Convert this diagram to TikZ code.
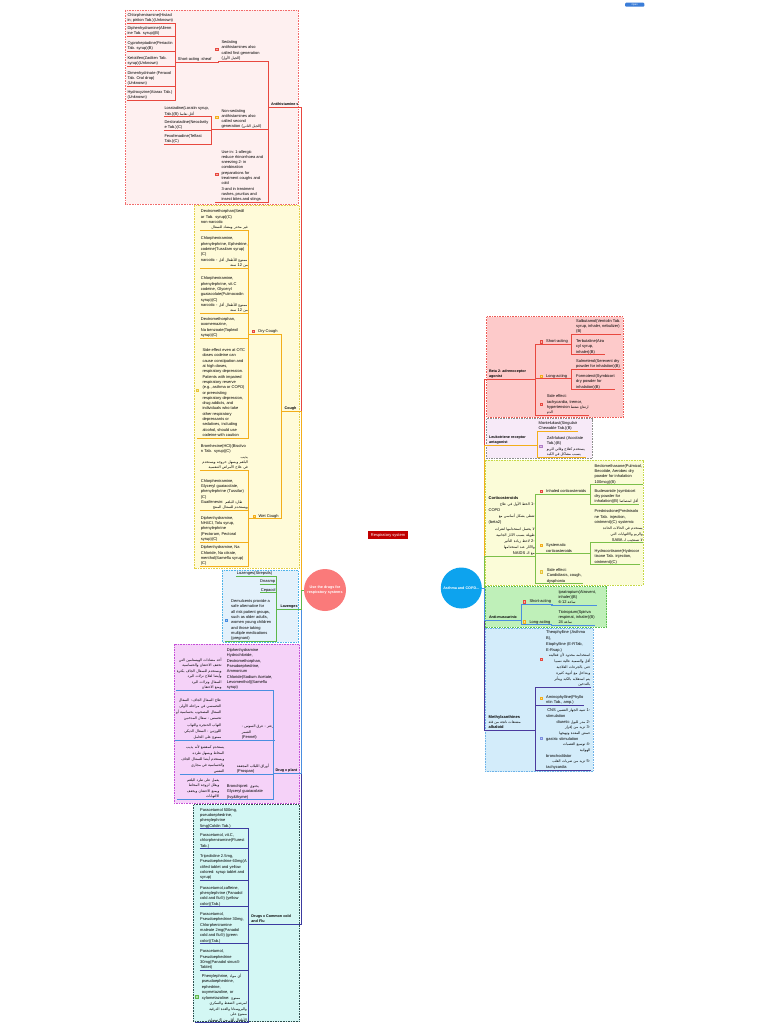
\documentclass[tikz,border=0pt]{standalone}
\usepackage{fontspec}
\setmainfont{Liberation Sans}
\newfontfamily\arfont[Script=Arabic,Scale=0.88]{DejaVu Sans}
\TeXXeTstate=1
\newcommand\artx[1]{{\arfont\beginR #1\endR}}
\newcommand\artr[1]{\mbox{}\hfill\artx{#1}}
\newcommand\ltr[1]{\beginL{\normalfont #1}\endL{}}
\newcommand\fs{\fontsize{4}{5.3}\selectfont}
\newcommand\fsx[1]{\fontsize{4}{#1}\selectfont}
\newcommand\fsb{\fontsize{3.7}{5.3}\selectfont\bfseries}
\definecolor{redL}{HTML}{E8483F}
\definecolor{redB}{HTML}{F26B6B}
\definecolor{redF}{HTML}{FEF0F0}
\definecolor{orL}{HTML}{F3AE1B}
\definecolor{yelB}{HTML}{E3CF45}
\definecolor{yelF}{HTML}{FFFBD9}
\definecolor{yelM}{HTML}{E8C53A}
\definecolor{grL}{HTML}{5DB84A}
\definecolor{lozB}{HTML}{4FB3E8}
\definecolor{lozF}{HTML}{E3F1FB}
\definecolor{blL}{HTML}{4A8EE0}
\definecolor{magB}{HTML}{C44FD6}
\definecolor{magF}{HTML}{F5D2F8}
\definecolor{navL}{HTML}{3B3BA0}
\definecolor{tealB}{HTML}{2F4F4F}
\definecolor{cyF}{HTML}{D3F7F4}
\definecolor{r1F}{HTML}{FDCACA}
\definecolor{r1B}{HTML}{EE5A55}
\definecolor{r2F}{HTML}{F7EAF8}
\definecolor{r2B}{HTML}{8E8E8E}
\definecolor{r2M}{HTML}{B07CC6}
\definecolor{r3F}{HTML}{FBFCD8}
\definecolor{r3B}{HTML}{C5D845}
\definecolor{r3L}{HTML}{7CC04A}
\definecolor{r4F}{HTML}{BFF0B9}
\definecolor{r4B}{HTML}{5CC04F}
\definecolor{r5F}{HTML}{D3ECFA}
\definecolor{r5B}{HTML}{6FB3E8}
\definecolor{r5M}{HTML}{7B8FE0}
\definecolor{purL}{HTML}{4B3A9E}
\definecolor{pinkC}{HTML}{FA7A7A}
\definecolor{blueC}{HTML}{0DA3EE}
\definecolor{rootR}{HTML}{C00000}
\definecolor{btnB}{HTML}{3B7DD8}
\newcommand\ulin[2]{\draw[ln,#2] (#1.south west) -- (#1.south east);}
\newcommand\ulx[3]{\draw[ln,#2] ([xshift=-#3pt]#1.south west) -- (#1.south east);}
\newcommand\lcon[4]{\draw[ln,#4] (#1.south west) -- (#1.south west -| #3,0) |- (#2.south east);}
\newcommand\rcon[4]{\draw[ln,#4] (#1.south east) -- (#1.south east -| #3,0) |- (#2.south west);}
\newcommand\mrk[3]{\filldraw[fill=#3!45,draw=#3,line width=0.3pt] ({#1-1.3},{#2-1.2}) rectangle ({#1+1.3},{#2+1.2});}
\begin{document}
\begin{tikzpicture}[x=1pt,y=-1pt,
 t/.style={font=\fs,align=left,inner sep=0.5pt,anchor=north west,execute at end node={\vphantom{(}}},
 tr/.style={font=\fs,align=right,inner sep=0.5pt,anchor=south east,execute at end node={\vphantom{(}}},
 lb/.style={font=\fsb,align=left,inner sep=0.5pt,anchor=north west,execute at end node={\vphantom{(}}},
 grp/.style={dash pattern=on 1.6pt off 1pt,line width=0.5pt},
 ln/.style={line width=0.7pt}]
\fill[white] (0,0) rectangle (768,1024);
\useasboundingbox (0,0) rectangle (768,1024);

% ---------- group boxes ----------
\draw[grp,draw=redB,fill=redF] (125.7,10) rectangle (298.3,204);
\draw[grp,draw=yelB,fill=yelF] (194,205.5) rectangle (299.5,568.3);
\draw[grp,draw=lozB,fill=lozF] (222.3,570) rectangle (298.3,642.3);
\draw[grp,draw=magB,fill=magF] (174,644) rectangle (299.5,803.3);
\draw[grp,draw=tealB,fill=cyF] (193.3,804.5) rectangle (299.5,1021.7);
\draw[grp,draw=r1B,fill=r1F] (486.7,316.7) rectangle (623.3,417.3);
\draw[grp,draw=r2B,fill=r2F] (486.7,418.5) rectangle (592.3,458.3);
\draw[grp,draw=r3B,fill=r3F] (485,460) rectangle (643.3,585);
\draw[grp,draw=r4B,fill=r4F] (485,586.5) rectangle (606.7,627);
\draw[grp,draw=r5B,fill=r5F] (485,628.3) rectangle (593.3,771.7);

% ---------- centre ----------
\node[fill=rootR,text=white,font=\fs,inner sep=0,minimum width=40.6pt,minimum height=8.3pt] (root) at (388,535.2) {Respiratory system};
\node[circle,fill=pinkC,text=white,font=\fontsize{3.7}{4.6}\selectfont\bfseries,align=center,minimum size=42pt,inner sep=0] (pink) at (325,590) {Use the drugs for\\respiratory systems};
\node[circle,fill=blueC,text=white,font=\fontsize{3.7}{4.4}\selectfont\bfseries,minimum size=41pt,inner sep=0] (bluec) at (461.3,588) {Asthma and COPD...};
\node[fill=btnB,rounded corners=1pt,text=white,font=\fontsize{2.6}{3}\selectfont,inner sep=0.5pt,minimum width=19.3pt,minimum height=4pt] (btn) at (634.7,4.7) {Open};

% ---------- Antihistamines ----------
\node[lb] (antih) at (270.3,102.6) {Antihistamine s};
\node[t] (sed) at (220.8,40) {Sedating\\antihistamines also\\called first generation\\(\artx{الجيل الأول})};
\node[t] (ns) at (220.8,108.5) {Non-sedating\\antihistamines also\\called second\\generation (\artx{الجيل الثاني})};
\node[t] (ui) at (220.8,149.5) {Use in: 1-allergic\\reduce rhinorrhoea and\\sneezing 2- in\\combination\\preparations for\\treatment coughs and\\cold\\3-and in treatment\\rashes, pruritus and\\insect bites and stings};
\node[t] (sa) at (177.2,56.8) {Short-acting :sheaf};
\node[t] (a1) at (126.8,12.8) {Chlorpheniramine(Histad\\in; piriton Tab.)(Unknown)};
\node[t] (a2) at (126.8,25.8) {Diphenhydramine(Allerm\\ine Tab. syrup)(B)};
\node[t] (a3) at (126.8,40.8) {Cyproheptadine(Periactin\\Tab. syrup)(B)};
\node[t] (a4) at (126.8,55.8) {Ketotifen(Zaditen Tab.\\syrup)(Unknown)};
\node[t] (a5) at (126.8,70.5) {Dimenhydrinate (Feraxol\\Tab. Oral drop)\\(Unknown)};
\node[t] (a6) at (126.8,89.8) {Hydroxyzine(Atarax Tab.)\\(Unknown)};
\node[t] (lo) at (163.8,106.3) {Loratadine(Loratin syrup,\\Tab.)(B) \artx{أقل نعاسا}};
\node[t] (de) at (163.8,119.8) {Desloratadine(Neoclarity\\e Tab.)(C)};
\node[t] (fe) at (163.8,133.8) {Fexofenadine(Telfast\\Tab.)(C)};

% ---------- Cough ----------
\node[lb] (cough) at (284,406.5) {Cough};
\node[t] (dry) at (257.7,329.1) {Dry Cough};
\node[t] (wet) at (258,513.4) {Wet Cough};
\node[t,text width=47pt] (dc1) at (200.2,209.2) {Dextromethorphan(Sedil\\ar Tab. syrup)(C)\\non-narcotic\\\artr{غير مخدر ومضاد للسعال}};
\node[t,text width=47pt] (dc2) at (200.2,236.3) {Chlorpheniramine,\\phenylephrine, Ephedrine,\\codeine(Tussilam syrup)\\(C)\\narcotic - \artx{ممنوع للأطفال أقل}\\\artr{من \ltr{12} سنة}};
\node[t,text width=47pt] (dc3) at (200.2,276.3) {Chlorpheniramine,\\phenylephrine, vit.C\\codeine, Glyceryl\\guaiacolate(Pulmocodin\\syrup)(C)\\narcotic - \artx{ممنوع للأطفال أقل}\\\artr{من \ltr{12} سنة}};
\node[t] (dc4) at (200.2,316.9) {Dextromethorphan,\\oxomemazine,\\Na benzoate(Toplexil\\syrup)(C)};
\node[t] (dse) at (201.8,348) {Side effect even at OTC\\doses codeine can\\cause constipation and\\at high doses,\\respiratory depression.\\Patients with impaired\\respiratory reserve\\(e.g., asthma or COPD)\\or preexisting\\respiratory depression,\\drug addicts, and\\individuals who take\\other respiratory\\depressants or\\sedatives, including\\alcohol, should use\\codeine with caution};
\node[t,text width=47pt] (dw1) at (200.2,443.9) {Bromhexine(HCl)(Bisolvo\\n Tab. syrup)(C)\\\artr{يذيب}\\\artr{البلغم ويسهل خروجه ويستخدم}\\\artr{في علاج الأمراض التنفسية}};
\node[t,text width=47pt] (dw2) at (200.2,478.6) {Chlorpheniramine,\\Glyceryl guaiacolate,\\phenylephrine (Tussilar)\\(C)\\Guaifenesin: \artx{طارد للبلغم}\\\artr{ويستخدم للسعال المنتج}};
\node[t] (dw3) at (200.2,515.6) {Diphenhydramine,\\NH4Cl, Tolu syrup,\\phenylephrine\\(Pectoram, Pectoral\\syrup)(C)};
\node[t] (dw4) at (200.2,545.2) {Diphenhydramine, Na\\Chloride, Na citrate,\\menthol(Sameflu syrup)\\(C)};

% ---------- Lozenges ----------
\node[lb] (loz) at (279.8,604.3) {Lozenges};
\node[t] (l1) at (236.2,570.8) {Lozenges(Strepsils)};
\node[t] (l2) at (259.5,579.1) {Dnasmp};
\node[t] (l3) at (260.2,587.4) {Cepacol};
\node[t] (l4) at (230.5,599) {Demulcents provide a\\safe alternative for\\all risk patient groups,\\such as older adults,\\women young children\\and those taking\\multiple medications\\(pregnant)};

% ---------- Drug x plant ----------
\node[lb] (dp) at (274.8,768.6) {Drug x plant};
\node[t] (p1) at (226.2,648) {Diphenhydramine\\Hydrochloride,\\Dextromethorphan,\\Pseudoephedrine,\\Ammonium\\Chloride(Sodium Acetate,\\Levomenthol)(Sameflu\\syrup)};
\node[tr,text width=45pt,font={\fsx{5.5}}] (p1a) at ([xshift=-4pt]p1.south west) {\artx{أحد مضادات الهيستامين التي}\\\artx{تخفف الاحتقان والحساسية}\\\artx{ويستخدم للسعال الجاف بكثرة}\\\artx{وأيضا لعلاج نزلات البرد}\\\artx{السعال ونزلات البرد}\\\artx{ومنع الاحتقان}};
\node[t] (p2) at (241.2,724.5) {\artx{زعتر - عرق السوس -}\\\artx{الشمر}\\(Fennel)};
\node[tr,text width=46pt,font={\fsx{6.2}}] (p2a) at (p2.south west -| 222,0) {\artx{علاج السعال الجاف: السعال}\\\artx{التحسسي في مراحله الأولى}\\\artx{السعال المصحوب بحساسية أو}\\\artx{تحسس - سعال المدخنين}\\\artx{التهاب الحنجرة والتهاب}\\\artx{اللوزتين - السعال الديكي}\\\artx{ممنوع على الحامل}};
\node[t] (p3) at (236.2,763.1) {\artx{أوراق اللبلاب المجففة}\\(Prospan)};
\node[tr,text width=44pt,font={\fsx{5.9}}] (p3a) at (p3.south west -| 225,0) {\artx{يستخدم كمقشع لأنه يذيب}\\\artx{المخاط ويسهل طرده}\\\artx{ويستخدم أيضا للسعال الجاف}\\\artx{والحساسية في مجاري}\\\artx{التنفس}};
\node[t] (p4) at (226.2,783.8) {Bronchipret: \artx{يحتوي}\\Glyceryl guaiacolate\\(Ivy\&thyme)};
\node[tr,text width=42pt,font={\fsx{5.6}}] (p4a) at (p4.south west -| 220,0) {\artx{يعمل على طرد البلغم}\\\artx{ويقلل لزوجة المخاط}\\\artx{ويمنع الاحتقان ويخفف}\\\artx{الالتهابات}};

% ---------- Common cold and flu ----------
\node[lb] (cf) at (250.7,914) {Drugs x Common cold\\and Flu};
\node[t] (c1) at (199.5,807.5) {Paracetamol 500mg,\\pseudoephedrine,\\phenylephrine\\5mg(Coldin Tab.)};
\node[t] (c2) at (199.5,832.8) {Paracetamol, vit.C,\\chlorpheniramine(Flurest\\Tab.)};
\node[t] (c3) at (199.5,853.9) {Triprolidine 2.5mg,\\Pseudoephedrine 60mg(A\\ctifed tablet and yellow\\colored: syrup tablet and\\syrup)};
\node[t] (c4) at (199.5,885.7) {Paracetamol,caffeine,\\phenylephrine (Panadol\\cold and flu®) (yellow\\color)(Tab.)};
\node[t] (c5) at (199.5,911.9) {Paracetamol,\\Pseudoephedrine 30mg,\\Chlorpheniramine\\maleate 2mg(Panadol\\cold and flu®) (green\\color)(Tab.)};
\node[t] (c6) at (199.5,949.2) {Paracetamol,\\Pseudoephedrine\\30mg(Panadol sinus®\\Tablet)};
\node[t,text width=45pt,font={\fsx{5.5}}] (c7) at (201.2,972.8) {Phenylephrine, \artx{أي مواد}\\pseudoephedrine,\\ephedrine,\\oxymetazoline, or\\xylometazoline: \artx{ممنوع}\\\artr{لمرضى الضغط والسكري}\\\artr{والبروستاتا والغدة الدرقية}\\\artr{ممنوع على}\\\artr{الأطفال أقل من \ltr{6} سنوات}};

% ---------- Beta 2 ----------
\node[lb] (b2) at (488.3,368.7) {Beta 2- adrenoceptor\\agonist};
\node[t] (s1) at (545.5,339.4) {Short-acting};
\node[t] (s2) at (545.5,373.4) {Long-acting};
\node[t] (s3) at (546.2,394.2) {Side effect:\\tachycardia, tremor,\\hypertension \artx{ارتفاع ضغط}\\\artx{الدم}};
\node[t] (sb1) at (575.5,318.5) {Salbutamol(Ventolin Tab.\\syrup, inhaler, nebulizer)\\(B)};
\node[t] (sb2) at (575.5,338.8) {Terbutaline(Aira\\cyl syrup,\\inhaler)(B)};
\node[t] (lb1) at (575.5,358.5) {Salmeterol(Serevent dry\\powder for inhalation)(B)};
\node[t] (lb2) at (575.5,373.8) {Formoterol(Symbicort\\dry powder for\\inhalation)(B)};

% ---------- Leukotriene ----------
\node[lb] (lk) at (488.3,435) {Leukotriene receptor\\antagonist};
\node[t] (lk1) at (538,420.5) {Montelukast(Singulair\\Chewable Tab.)(B)};
\node[t] (lk2) at (546.2,435.9) {Zafirlukast (Accolate\\Tab.)(B)\\\artx{يستخدم كعلاج وقائي للربو}\\\artx{يسبب مشاكل في الكبد}};

% ---------- Corticosteroids ----------
\node[t,text width=46pt,font={\fsx{6.2}}] (cs) at (488,495.5) {\textbf{Corticosteroids}\\\artr{\ltr{1-} الخط الأول في علاج \ltr{COPD}}\\\artr{تعطى بشكل أساسي مع \ltr{(beta2)}}\\\artr{لا يحتمل استخدامها لفترات}\\\artr{طويلة بسبب الآثار الجانبية}\\\artr{\ltr{2-} لاحظ زيادة التأثير}\\\artr{والآثار عند استخدامها}\\\artr{مع الـ \ltr{NAIDS}}};
\node[t] (ic) at (545.5,488.8) {Inhaled corticosteroids};
\node[t] (sc) at (545.5,543.1) {Systematic\\corticosteroids};
\node[t] (se) at (546.2,567.8) {Side effect:\\Candidiasis, cough,\\dysphonia};
\node[t] (be) at (594,463.5) {Beclomethasone(Pulmicol,\\Becotide, Aerobec dry\\powder for inhalation\\100mcg)(B)};
\node[t] (bu) at (594,488.5) {Budesonide (symbicort\\dry powder for\\inhalation)(B) \artx{أقل امتصاصا}};
\node[t,text width=48pt,font={\fsx{5.7}}] (pr) at (594,508.9) {Prednisolone(Prednisolo\\ne Tab. injection,\\ointment)(C) systemic\\\artr{يستخدم في الحالات الحادة}\\\artr{والربو والالتهابات التي}\\\artr{لا تستجيب لـ \ltr{SABA}}};
\node[t] (hy) at (594,548.8) {Hydrocortisone(Hydrocor\\tisone Tab. injection,\\ointment)(C)};

% ---------- Anti-muscarinic ----------
\node[lb] (am) at (488.3,615.3) {Anti-muscarinic};
\node[t] (ma1) at (528.8,599.1) {Short-acting};
\node[t] (ma2) at (528.8,619.5) {Long-acting};
\node[t] (ip) at (557.8,589.5) {Ipratropium(Atrovent,\\inhaler)(B)\\6-12 \artx{ساعة}};
\node[t] (ti) at (557.8,609.5) {Tiotropium(Spiriva\\respimat, inhaler)(B)\\24 \artx{ساعة}};

% ---------- Methylxanthines ----------
\node[t] (mx) at (488,714.5) {\textbf{Methylxanthines}\\\artx{مشتقات ناتجة من فئة}\\\textbf{alkaloid}};
\node[t,text width=44pt,font={\fsx{5.8}}] (th) at (545.5,630) {Theophylline (Asthma\\B),\\Etophylline (E-RTab,\\E-Rsap.)\\\artr{استخدامه محدود لأن فعاليته}\\\artr{أقل والسمية عالية نسبيا}\\\artr{حتى بالجرعات العلاجية}\\\artr{ويتداخل مع أدوية كثيرة}\\\artr{يتم استقلابه بالكبد ويتأثر}\\\artr{بالتدخين}};
\node[t] (ami) at (545.5,694.8) {Aminophylline(Phyllo\\ntin Tab., amp.)};
\node[t,text width=44pt,font={\fsx{5.7}}] (cn) at (545.5,708.1) {\artr{\ltr{1-} تنبيه الجهاز العصبي \ltr{CNS}}\\stimulation\\\artr{\ltr{2-} مدر للبول \ltr{diuretic}}\\\artr{\ltr{3-} تزيد من إفراز}\\\artr{حمض المعدة وتهيجها}\\gastric stimulation\\\artr{\ltr{4-} توسيع القصبات}\\\artr{الهوائية}\\bronchodilator\\\artr{\ltr{5-} تزيد من ضربات القلب}\\tachycardia};

% ---------- trunks (left) ----------
\draw[ln,redL] (pink.west) -- (301.7,590) |- (antih.south east);
\draw[ln,orL] (pink.west) -- (301.7,590) |- (cough.south east);
\draw[ln,navL] (pink.west) -- (301.7,590) |- (cf.south east);
\draw[ln,blL] (pink.west) -- (301.7,590) |- (dp.south east);
\draw[ln,grL] (pink.west) -- (301.7,590) |- (loz.south east);
% ---------- trunks (right) ----------
\draw[ln,redL] (bluec.east) -- (484,588) |- (b2.south west);
\draw[ln,orL] (bluec.east) -- (484,588) |- (lk.south west);
\draw[ln,r3L] (bluec.east) -- (484,588) |- (cs.south west);
\draw[ln,purL] (bluec.east) -- (484,588) |- (mx.south west);
\draw[ln,blL] (bluec.east) -- (484,588) |- (am.south west);

% ---------- underlines ----------
\foreach \n in {antih,sed,ns,sa,a1,a2,a3,a4,a5,a6,lo,de,fe} {\ulin{\n}{redL}}
\ulx{ui}{redL}{5.5}
\foreach \n in {cough,dry,wet,dc1,dc2,dc3,dc4,dw1,dw2,dw3,dw4} {\ulin{\n}{orL}}
\ulx{dse}{orL}{4.5}
\foreach \n in {loz,l1,l2,l3} {\ulin{\n}{grL}}
\ulx{l4}{grL}{6}
\foreach \n in {dp,p1,p2,p3,p4,p1a,p2a,p3a,p4a} {\ulin{\n}{blL}}
\foreach \n in {cf,c1,c2,c3,c4,c5,c6} {\ulin{\n}{navL}}
\ulx{c7}{navL}{6}
\foreach \n in {b2,s1,s2,s3,sb1,sb2,lb1,lb2} {\ulin{\n}{redL}}
\foreach \n in {lk,lk1,lk2} {\ulin{\n}{orL}}
\foreach \n in {cs,ic,sc,se,be,bu,pr,hy} {\ulin{\n}{r3L}}
\foreach \n in {am,ma1,ma2,ip,ti} {\ulin{\n}{blL}}
\foreach \n in {mx,th,ami,cn} {\ulin{\n}{purL}}

% ---------- connectors (left) ----------
\foreach \n in {sed,ns,ui} {\lcon{antih}{\n}{268.3}{redL}}
\lcon{sed}{sa}{218.3}{redL}
\foreach \n in {a1,a2,a3,a4,a5,a6} {\lcon{sa}{\n}{175}{redL}}
\foreach \n in {lo,de,fe} {\lcon{ns}{\n}{211.7}{redL}}
\foreach \n in {dry,wet} {\lcon{cough}{\n}{281.7}{orL}}
\foreach \n in {dc1,dc2,dc3,dc4,dse} {\lcon{dry}{\n}{248.3}{orL}}
\foreach \n in {dw1,dw2,dw3,dw4} {\lcon{wet}{\n}{248.3}{orL}}
\foreach \n in {l1,l2,l3,l4} {\lcon{loz}{\n}{276.7}{grL}}
\foreach \n in {p1,p2,p3,p4} {\lcon{dp}{\n}{273.3}{blL}}
\draw[ln,blL] (p1.south west) -- (p1a.south east);
\draw[ln,blL] (p2.south west) -- (p2a.south east);
\draw[ln,blL] (p3.south west) -- (p3a.south east);
\draw[ln,blL] (p4.south west) -- (p4a.south east);
\foreach \n in {c1,c2,c3,c4,c5,c6,c7} {\lcon{cf}{\n}{248.3}{navL}}

% ---------- connectors (right) ----------
\foreach \n in {s1,s2,s3} {\rcon{b2}{\n}{535}{redL}}
\foreach \n in {sb1,sb2} {\rcon{s1}{\n}{571.7}{redL}}
\foreach \n in {lb1,lb2} {\rcon{s2}{\n}{571.7}{redL}}
\foreach \n in {lk1,lk2} {\rcon{lk}{\n}{537.3}{orL}}
\foreach \n in {ic,sc,se} {\rcon{cs}{\n}{535}{r3L}}
\foreach \n in {be,bu} {\rcon{ic}{\n}{590}{r3L}}
\foreach \n in {pr,hy} {\rcon{sc}{\n}{590}{r3L}}
\foreach \n in {ma1,ma2} {\rcon{am}{\n}{521.7}{blL}}
\rcon{ma1}{ip}{551.7}{blL}
\rcon{ma2}{ti}{551.7}{blL}
\foreach \n in {th,ami,cn} {\rcon{mx}{\n}{535}{purL}}

% ---------- markers ----------
\mrk{216.7}{49.3}{redL}
\mrk{216.7}{117.3}{orL}
\mrk{216.7}{174}{redL}
\mrk{253.3}{331}{redL}
\mrk{254}{516}{orL}
\mrk{197.3}{390}{yelM}
\mrk{226}{620}{blL}
\mrk{196.7}{996.7}{grL}
\mrk{541}{341.7}{redL}
\mrk{541}{376}{orL}
\mrk{541}{404.3}{redL}
\mrk{540.7}{446}{r2M}
\mrk{541}{491}{redL}
\mrk{541}{545}{orL}
\mrk{541}{571.7}{yelM}
\mrk{524.3}{601.7}{redL}
\mrk{524.3}{621.7}{orL}
\mrk{541}{659.3}{redL}
\mrk{541}{698.3}{orL}
\mrk{541}{738.3}{r5M}
\end{tikzpicture}
\end{document}
